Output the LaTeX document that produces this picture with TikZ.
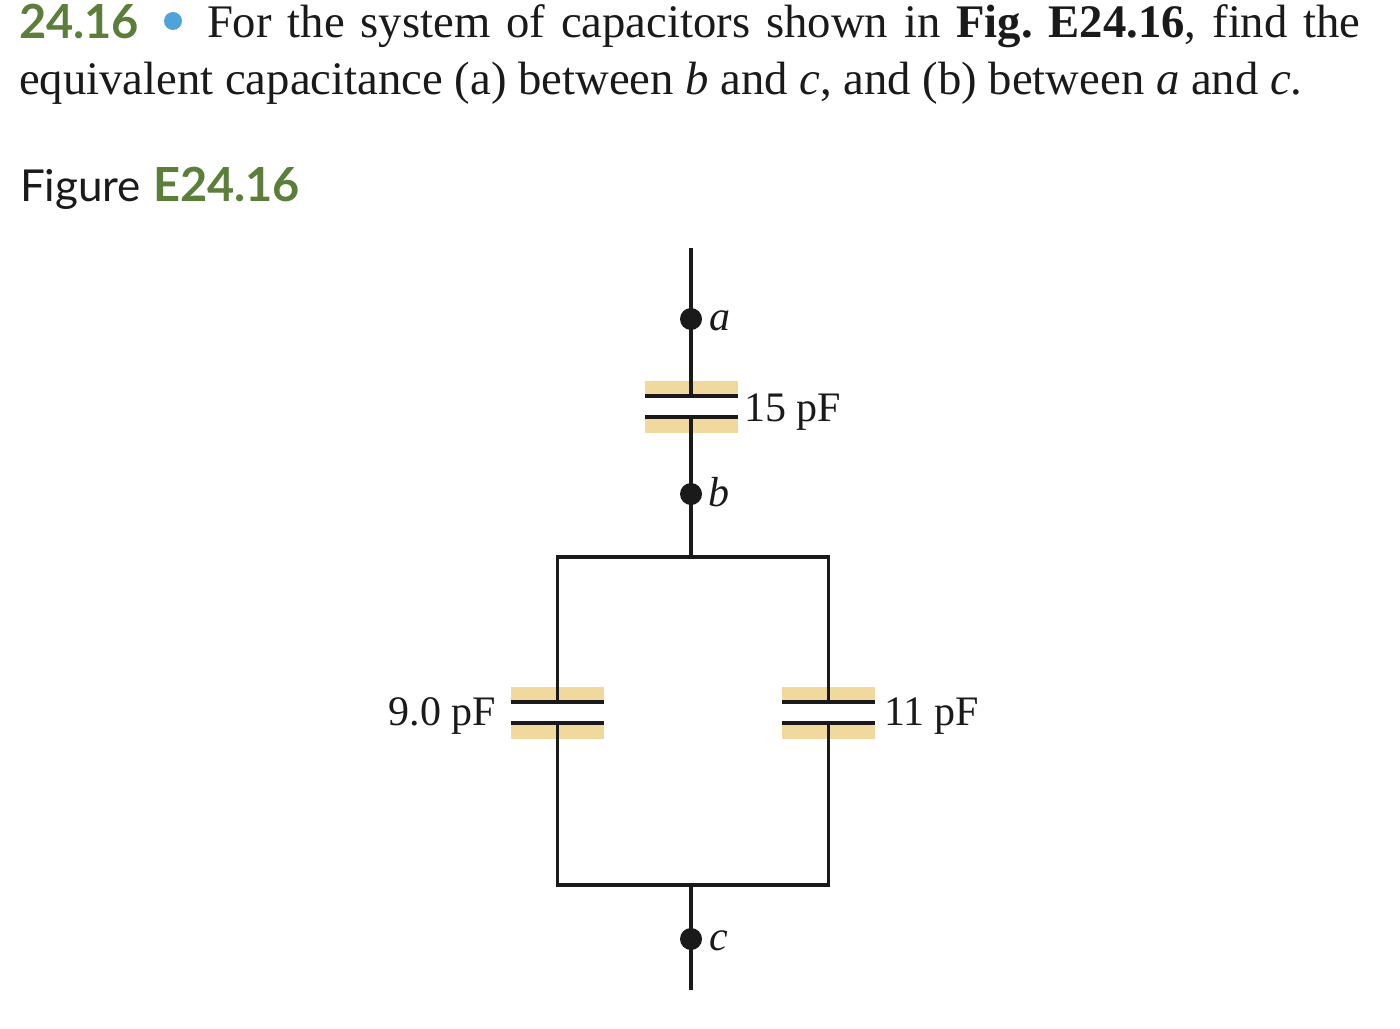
\documentclass[tikz,border=0pt]{standalone}
\usepackage{fontspec}
\setmainfont{Liberation Serif}
\newfontfamily\headsans{Lato}
\definecolor{probgreen}{HTML}{5B7F3B}
\definecolor{dotblue}{HTML}{4FA3D9}
\definecolor{platetan}{HTML}{F1D99D}
\definecolor{wire}{HTML}{1A1A1A}
\tikzset{
  txt/.style={inner sep=0pt,outer sep=0pt,anchor=base west,text=wire},
  body/.style={txt,font=\fontsize{23.35}{26}\selectfont\frenchspacing},
  head/.style={txt,font=\fontsize{23.5}{26}\headsans},
  headlight/.style={txt,font=\fontsize{22}{26}\headsans},
  val/.style={txt,font=\fontsize{21}{24}\selectfont},
  term/.style={txt,font=\fontsize{21}{24}\selectfont\itshape},
  wireline/.style={draw=wire,line width=1.8pt},
  junct/.style={circle,fill=wire,inner sep=0pt,minimum size=11pt},
  plate/.style={rectangle,fill=wire,inner sep=0pt,minimum width=46.5pt,minimum height=2.1pt},
  tanbar/.style={rectangle,fill=platetan,inner sep=0pt,minimum width=46.5pt,minimum height=8pt},
}
\begin{document}
\begin{tikzpicture}[x=0.5pt,y=-0.5pt]
\useasboundingbox (0,0) rectangle (1400,1028);
% text
\node[head,text=probgreen] (num) at (19,38) {\bfseries 24.16};
\node[circle,fill=dotblue,inner sep=0pt,minimum size=9pt] (lvl) at (173,21) {};
\node[body] (l1) at (207,37) {\makebox[576.8pt][s]{For the system of capacitors shown in \textbf{Fig. E24.16}, find the}};
\node[body] (l2) at (19,94) {equivalent capacitance (a) between \textit{b} and \textit{c}, and (b) between \textit{a} and \textit{c}.};
\node[headlight] (figw) at (20,201) {Figure};
\node[head,text=probgreen] (fign) at (153,201) {\bfseries E24.16};
% tan bars
\node[tanbar] (t1a) at (691,389) {};
\node[tanbar] (t1b) at (691,425) {};
\node[tanbar] (t2a) at (557.5,695) {};
\node[tanbar] (t2b) at (557.5,731) {};
\node[tanbar] (t3a) at (828.5,695) {};
\node[tanbar] (t3b) at (828.5,731) {};
% plates
\node[plate] (p1a) at (691,396) {};
\node[plate] (p1b) at (691,417) {};
\node[plate] (p2a) at (557.5,702) {};
\node[plate] (p2b) at (557.5,723) {};
\node[plate] (p3a) at (828.5,702) {};
\node[plate] (p3b) at (828.5,723) {};
% terminals
\coordinate (top) at (691,248);
\coordinate (bot) at (691,990);
\coordinate (jt) at (691,557);
\coordinate (jb) at (691,885);
\coordinate (tl) at (557.5,557);
\coordinate (tr) at (828.5,557);
\coordinate (bl) at (557.5,885);
\coordinate (br) at (828.5,885);
\node[junct] (a) at (691,319) {};
\node[junct] (b) at (691,494) {};
\node[junct] (c) at (691,939) {};
% wires
\draw[wireline] (top) -- (a.center) -- (p1a.center);
\draw[wireline] (p1b.center) -- (b.center) -- (jt);
\draw[wireline,line join=miter] (p2a.center) -- (tl) -- (tr) -- (p3a.center);
\draw[wireline,line join=miter] (p2b.center) -- (bl) -- (br) -- (p3b.center);
\draw[wireline] (jb) -- (c.center) -- (bot);
% labels
\node[term] (la) at (709,330) {a};
\node[term] (lb) at (708,506) {b};
\node[term] (lc) at (709,950) {c};
\node[val] (v1) at (744,421) {15 pF};
\node[val,anchor=base east] (v2) at (496,725) {9.0 pF};
\node[val] (v3) at (884,725) {11 pF};
\end{tikzpicture}
\end{document}
